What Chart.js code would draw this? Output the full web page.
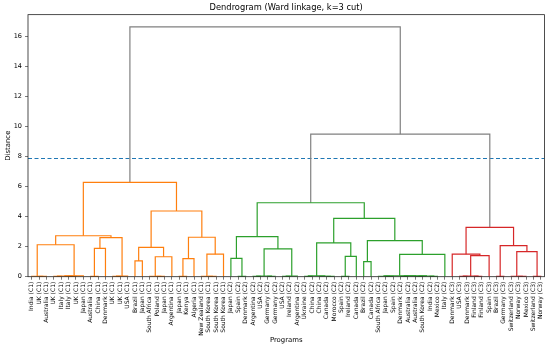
<!DOCTYPE html>
<html lang="en">
<head>
    <meta charset="UTF-8">
    <title>Dendrogram (Ward linkage)</title>
    <script src="https://cdn.jsdelivr.net/npm/chart.js"></script>
    <style>
        body {
            margin: 0;
            padding: 0;
            background-color: #ffffff;
        }
    </style>
</head>
<body>
<canvas id="dendroChart" width="550" height="346"></canvas>

<script>
    // Leaves, in the order they appear along the x axis
    const leafLabels = [
        'India (C1)', 'UK (C1)', 'Australia (C1)', 'UK (C1)', 'Italy (C1)', 'Italy (C1)', 'UK (C1)',
        'Japan (C1)', 'Australia (C1)', 'China (C1)', 'Denmark (C1)', 'UK (C1)', 'UK (C1)', 'USA (C1)',
        'Brazil (C1)', 'Japan (C1)', 'South Africa (C1)', 'Poland (C1)', 'Japan (C1)', 'Argentina (C1)',
        'Japan (C1)', 'Kenya (C1)', 'Algeria (C1)', 'New Zealand (C1)', 'South Korea (C1)',
        'South Korea (C1)', 'South Korea (C1)',
        'Japan (C2)', 'Spain (C2)', 'Denmark (C2)', 'Argentina (C2)', 'USA (C2)', 'Germany (C2)',
        'Germany (C2)', 'USA (C2)', 'Ireland (C2)', 'Argentina (C2)', 'Ukraine (C2)', 'China (C2)',
        'China (C2)', 'Canada (C2)', 'Morocco (C2)', 'Spain (C2)', 'Ireland (C2)', 'Canada (C2)',
        'Brazil (C2)', 'Canada (C2)', 'South Africa (C2)', 'Japan (C2)', 'Spain (C2)', 'Denmark (C2)',
        'Australia (C2)', 'Australia (C2)', 'South Korea (C2)', 'India (C2)', 'Mexico (C2)', 'Italy (C2)',
        'Denmark (C3)', 'USA (C3)', 'Denmark (C3)', 'Finland (C3)', 'Finland (C3)', 'Spain (C3)',
        'Brazil (C3)', 'Germany (C3)', 'Switzerland (C3)', 'Norway (C3)', 'Mexico (C3)',
        'Switzerland (C3)', 'Norway (C3)'
    ];

    // Linkage rows: [left, right, distance]; ids >= 70 are earlier merges (70 = first row)
    const linkage = [
        // cluster C1
        [1, 2, 0.02], [0, 70, 0.03], [3, 4, 0.02], [5, 6, 0.02], [72, 73, 0.04], [74, 7, 0.05],
        [71, 75, 2.13], [8, 9, 0.02], [77, 10, 1.89], [11, 12, 0.02], [79, 13, 0.04], [78, 80, 2.6],
        [76, 81, 2.73], [14, 15, 1.05], [17, 18, 0.02], [16, 84, 0.03], [85, 19, 1.33], [83, 86, 1.96],
        [20, 21, 0.02], [88, 22, 1.2], [24, 25, 0.02], [23, 90, 0.03], [91, 26, 1.5], [89, 92, 2.63],
        [87, 93, 4.38], [82, 94, 6.29],
        // cluster C2
        [28, 29, 0.02], [27, 96, 1.22], [30, 31, 0.02], [32, 33, 0.02], [98, 99, 0.04], [34, 35, 0.02],
        [101, 36, 0.04], [100, 102, 1.85], [97, 103, 2.67], [37, 38, 0.02], [40, 41, 0.02], [39, 106, 0.03],
        [105, 107, 0.05], [42, 43, 0.02], [109, 44, 1.36], [108, 110, 2.25], [45, 46, 1.0], [48, 49, 0.02],
        [47, 113, 0.03], [50, 51, 0.02], [52, 53, 0.02], [54, 55, 0.02], [116, 117, 0.04], [115, 118, 0.05],
        [114, 119, 0.06], [120, 56, 1.49], [112, 121, 2.4], [111, 122, 3.89], [104, 123, 4.93],
        // cluster C3
        [58, 59, 0.02], [60, 61, 0.02], [125, 126, 0.04], [127, 62, 1.4], [57, 128, 1.5], [63, 64, 0.02],
        [66, 67, 0.02], [65, 131, 0.03], [68, 69, 0.02], [132, 133, 1.67], [130, 134, 2.07], [129, 135, 3.29],
        // top
        [124, 136, 9.5], [95, 137, 16.65]
    ];

    const cutHeight = 7.88;
    const yTicks = [0, 2, 4, 6, 8, 10, 12, 14, 16];
    const clusterColors = { C1: '#ff7f0e', C2: '#2ca02c', C3: '#d62728' };
    const aboveColor = '#808080';

    Chart.defaults.font.family = '"DejaVu Sans", sans-serif';
    Chart.defaults.color = '#000';

    // build the U shaped links the same way scipy does
    const nodeX = leafLabels.map((_, i) => 10 * i + 5);
    const nodeH = leafLabels.map(() => 0);
    const nodeCluster = leafLabels.map(l => l.match(/\((C\d)\)/)[1]);
    const datasets = [];

    linkage.forEach(([a, b, h]) => {
        const color = h > cutHeight ? aboveColor : clusterColors[nodeCluster[a]];
        datasets.push({
            data: [
                { x: nodeX[a], y: nodeH[a] },
                { x: nodeX[a], y: h },
                { x: nodeX[b], y: h },
                { x: nodeX[b], y: nodeH[b] }
            ],
            showLine: true,
            borderColor: color,
            borderWidth: 1.2,
            pointRadius: 0,
            fill: false
        });
        nodeX.push((nodeX[a] + nodeX[b]) / 2);
        nodeH.push(h);
        nodeCluster.push(nodeCluster[a]);
    });

    // cut line
    datasets.push({
        data: [{ x: 0, y: cutHeight }, { x: leafLabels.length * 10, y: cutHeight }],
        showLine: true,
        borderColor: '#1f77b4',
        borderWidth: 1,
        borderDash: [4, 2.5],
        pointRadius: 0
    });

    const framePlugin = {
        id: 'frame',
        afterDatasetsDraw(chart) {
            const { ctx, chartArea: a } = chart;
            ctx.save();
            ctx.strokeStyle = '#222';
            ctx.lineWidth = 0.8;
            ctx.strokeRect(a.left, a.top, a.right - a.left, a.bottom - a.top);
            ctx.restore();
        }
    };

    new Chart(document.getElementById('dendroChart'), {
        type: 'scatter',
        data: { datasets },
        plugins: [framePlugin],
        options: {
            responsive: false,
            animation: false,
            devicePixelRatio: 1,
            layout: { padding: { top: 0, right: 5, bottom: 0, left: 0 } },
            plugins: {
                legend: { display: false },
                tooltip: { enabled: false },
                title: {
                    display: true,
                    text: 'Dendrogram (Ward linkage, k=3 cut)',
                    fullSize: false,
                    font: { size: 8.3, weight: 'normal' },
                    color: '#000',
                    padding: { top: 2.4, bottom: 2.3 }
                }
            },
            scales: {
                x: {
                    type: 'linear',
                    min: 0,
                    max: leafLabels.length * 10,
                    afterBuildTicks: s => { s.ticks = leafLabels.map((_, i) => ({ value: 10 * i + 5 })); },
                    afterFit: s => { s.height = 69.3; },
                    ticks: {
                        autoSkip: false,
                        minRotation: 90,
                        maxRotation: 90,
                        padding: 2,
                        font: { size: 6 },
                        callback: v => leafLabels[Math.round((v - 5) / 10)]
                    },
                    grid: { drawOnChartArea: false, tickLength: 3, color: '#222', lineWidth: 0.6 },
                    border: { display: false },
                    title: { display: true, text: 'Programs', font: { size: 6.9 }, padding: { top: 0, bottom: 2 } }
                },
                y: {
                    min: 0,
                    max: 17.47,
                    afterBuildTicks: s => { s.ticks = yTicks.map(v => ({ value: v })); },
                    afterFit: s => { s.width = 28; },
                    ticks: { font: { size: 6.5 }, padding: 3 },
                    grid: { drawOnChartArea: false, tickLength: 3, color: '#222', lineWidth: 0.6 },
                    border: { display: false },
                    title: { display: true, text: 'Distance', font: { size: 6.9 }, padding: { top: 4, bottom: 0 } }
                }
            }
        }
    });
</script>
</body>
</html>
